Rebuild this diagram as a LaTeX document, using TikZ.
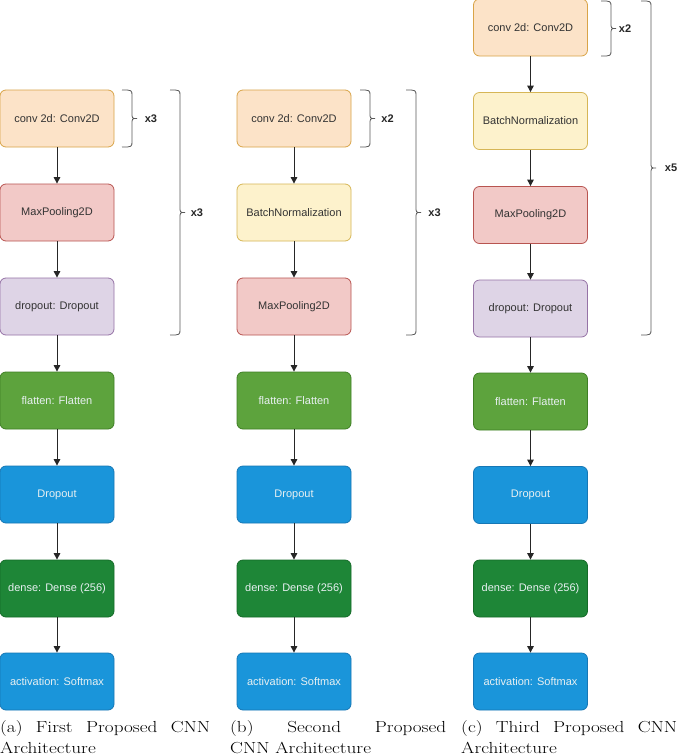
\documentclass[tikz,border=0pt]{standalone}
\usepackage{graphicx}
\usepackage{fontspec}
\newfontfamily\boxfont{Liberation Sans}
\usetikzlibrary{arrows.meta}
\definecolor{convF}{HTML}{FCE3C8}\definecolor{convD}{HTML}{D9A448}
\definecolor{bnF}{HTML}{FDF2CC}\definecolor{bnD}{HTML}{D6B656}
\definecolor{mpF}{HTML}{F2C9C7}\definecolor{mpD}{HTML}{B85450}
\definecolor{doF}{HTML}{DED4E6}\definecolor{doD}{HTML}{9673A6}
\definecolor{flF}{HTML}{5DA33D}\definecolor{flD}{HTML}{3F7F25}
\definecolor{blF}{HTML}{1A95DA}\definecolor{blD}{HTML}{1677B5}
\definecolor{dnF}{HTML}{1E8637}\definecolor{dnD}{HTML}{156B28}
\definecolor{lightT}{HTML}{E8F0F2}
\definecolor{darkT}{HTML}{333333}
\newcommand\capfont{\fontsize{16}{21}\selectfont\hyphenpenalty=10000\exhyphenpenalty=10000}
\newcommand\cbrace[6]{%
  \draw[brc] (#2,#3) .. controls (#2+10,#3) .. (#2+10,#3+6) -- (#2+10,{(#3+#4)/2-6})
    .. controls (#2+10,{(#3+#4)/2}) .. (#2+15,{(#3+#4)/2})
    .. controls (#2+10,{(#3+#4)/2}) .. (#2+10,{(#3+#4)/2+6}) -- (#2+10,#4-6)
    .. controls (#2+10,#4) .. (#2,#4);
  \node[rep] (#1) at (#6,{(#3+#4)/2}) {#5};}
\tikzset{
  layer/.style={draw, rounded corners=6pt, minimum width=114pt, minimum height=57pt,
    inner sep=0pt, line width=0.8pt, font=\boxfont\fontsize{11}{13}\selectfont},
  conv/.style={layer, fill=convF, draw=convD, text=darkT},
  bn/.style={layer, fill=bnF, draw=bnD, text=darkT},
  mp/.style={layer, fill=mpF, draw=mpD, text=darkT},
  drp/.style={layer, fill=doF, draw=doD, text=darkT},
  flt/.style={layer, fill=flF, draw=flD, text=lightT},
  blu/.style={layer, fill=blF, draw=blD, text=lightT},
  dns/.style={layer, fill=dnF, draw=dnD, text=lightT},
  arr/.style={draw=black!85, line width=1pt, -{Triangle[length=6.5pt,width=6.5pt]}},
  brc/.style={draw=black!65, line width=0.8pt},
  rep/.style={font=\boxfont\bfseries\fontsize{11}{13}\selectfont, text=black!85},
  capnode/.style={anchor=base west, inner sep=0pt}
}
\begin{document}
\begin{tikzpicture}[x=1pt,y=-1pt]
\path[use as bounding box, fill=white] (0,0) rectangle (685,756);
% column a
\node[conv] (a1) at (57,118.5) {conv 2d: Conv2D};
\node[mp]   (a2) at (57,212.5) {MaxPooling2D};
\node[drp]  (a3) at (57,306.5) {dropout: Dropout};
\node[flt]  (a4) at (57,400.5) {flatten: Flatten};
\node[blu]  (a5) at (57,494.5) {Dropout};
\node[dns]  (a6) at (57,588.5) {dense: Dense (256)};
\node[blu]  (a7) at (57,681.5) {activation: Softmax};
% column b
\node[conv] (b1) at (294,118.5) {conv 2d: Conv2D};
\node[bn]   (b2) at (294,212.5) {BatchNormalization};
\node[mp]   (b3) at (294,306.5) {MaxPooling2D};
\node[flt]  (b4) at (294,400.5) {flatten: Flatten};
\node[blu]  (b5) at (294,494.5) {Dropout};
\node[dns]  (b6) at (294,588.5) {dense: Dense (256)};
\node[blu]  (b7) at (294,681.5) {activation: Softmax};
% column c
\node[conv] (c1) at (530.5,27.5) {conv 2d: Conv2D};
\node[bn]   (c2) at (530.5,121) {BatchNormalization};
\node[mp]   (c3) at (530.5,215) {MaxPooling2D};
\node[drp]  (c4) at (530.5,308.5) {dropout: Dropout};
\node[flt]  (c5) at (530.5,401.5) {flatten: Flatten};
\node[blu]  (c6) at (530.5,495) {Dropout};
\node[dns]  (c7) at (530.5,588.5) {dense: Dense (256)};
\node[blu]  (c8) at (530.5,681.5) {activation: Softmax};
% arrows
\foreach \p/\q in {a1/a2,a2/a3,a3/a4,a4/a5,a5/a6,a6/a7,
                   b1/b2,b2/b3,b3/b4,b4/b5,b5/b6,b6/b7,
                   c1/c2,c2/c3,c3/c4,c4/c5,c5/c6,c6/c7,c7/c8}
  \draw[arr] (\p.south) -- (\q.north);
% braces
\cbrace{ra1}{122}{90}{147}{x3}{151}
\cbrace{ra2}{170}{90}{335}{x3}{197}
\cbrace{rb1}{360}{90}{147}{x2}{387.5}
\cbrace{rb2}{406}{90}{335}{x3}{434.5}
\cbrace{rc1}{601}{1}{56}{x2}{625}
\cbrace{rc2}{641}{1}{335}{x5}{671}
% captions
\node[capnode] (capa) at (0,732) {\scalebox{1.2}[1]{\parbox[t]{175pt}{\capfont (a) First Proposed CNN Architecture}}};
\node[capnode] (capb) at (230,732) {\scalebox{1.2}[1]{\parbox[t]{180pt}{\capfont (b) Second Proposed\linebreak CNN Architecture}}};
\node[capnode] (capc) at (461,732) {\scalebox{1.2}[1]{\parbox[t]{180pt}{\capfont (c) Third Proposed CNN Architecture}}};
\end{tikzpicture}
\end{document}
